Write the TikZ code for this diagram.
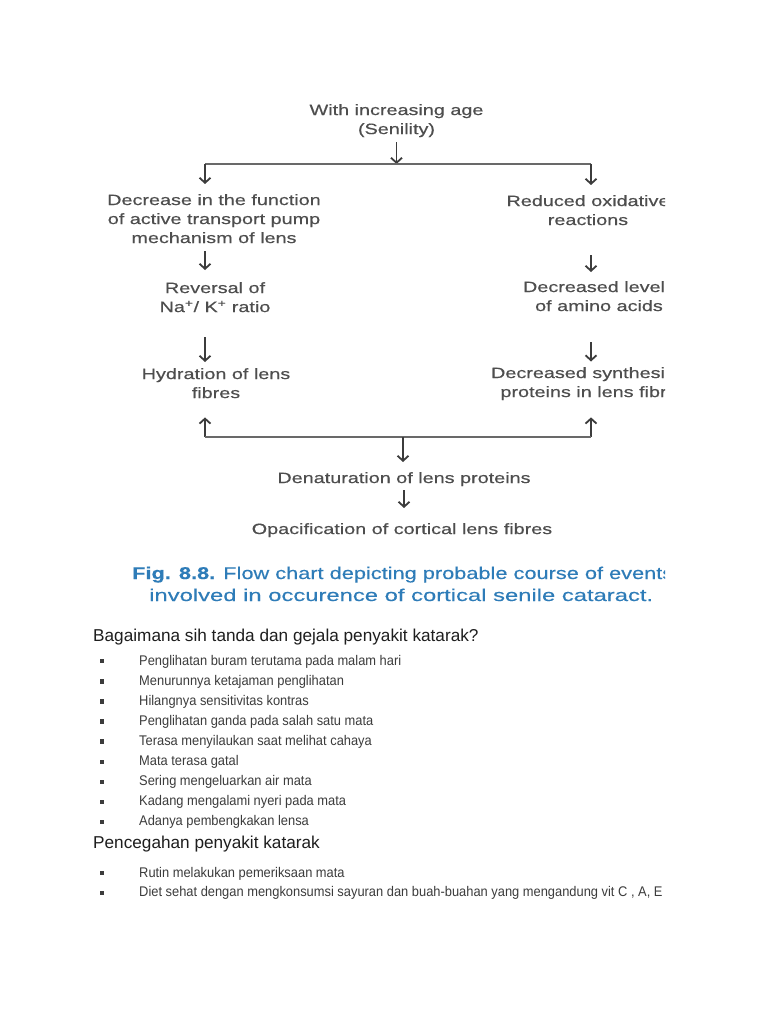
\documentclass[tikz,border=0pt]{standalone}
\usepackage{fontspec}
\setmainfont{Liberation Sans}
\newfontfamily\flowfont[FakeStretch=1.32,FakeBold=0.4]{Liberation Sans}
\newfontfamily\capfont[FakeStretch=1.28,FakeBold=0.3]{Liberation Sans}
\newfontfamily\capfontb[FakeStretch=1.40,FakeBold=0.3]{Liberation Sans}
\newfontfamily\listfont[FakeStretch=0.92]{Liberation Sans}
\usepackage{tikz}
\usetikzlibrary{arrows.meta,calc}

\definecolor{flowtext}{RGB}{78,78,78}
\definecolor{flowline}{RGB}{60,60,60}
\definecolor{barline}{RGB}{105,105,105}
\definecolor{capblue}{RGB}{46,124,184}
\definecolor{headtext}{RGB}{30,30,30}
\definecolor{listtext}{RGB}{60,60,60}

\tikzset{
  flowbox/.style={inner sep=0pt, align=center, anchor=north, text=flowtext,
    font=\flowfont\fontsize{15}{19}\selectfont},
  flow/.style={draw=flowline, line width=1.8pt,
    -{Straight Barb[length=5pt,width=11pt,line width=1.8pt]}},
  bar/.style={draw=barline, line width=2pt},
  captext/.style={inner sep=0pt, anchor=base west, text=capblue,
    font=\capfont\fontsize{17}{20}\selectfont},
  heading/.style={inner sep=0pt, anchor=base west, text=headtext,
    font=\fontsize{17.2}{20}\selectfont},
  item/.style={inner sep=0pt, anchor=base west, text=listtext,
    font=\listfont\fontsize{14}{16}\selectfont},
  sqbullet/.style={fill=listtext, minimum width=4pt, minimum height=4.4pt, inner sep=0pt}
}

\begin{document}
\begin{tikzpicture}[x=1pt,y=-1pt]
\useasboundingbox (0,0) rectangle (768,1024);
\fill[white] (0,0) rectangle (768,1024);

\pgfmathsetmacro{\dy}{20.1} % row step of the lists

\begin{scope}
% the scanned figure is cut off on the right
\clip (0,0) rectangle (665,620);

% flow chart boxes
\node[flowbox] (age) at (396.5,104) {With increasing age\\(Senility)};
\node[flowbox] (pump) at (214,194) {Decrease in the function\\of active transport pump\\mechanism of lens};
\node[flowbox] (oxid) at (588,195) {Reduced oxidative\\reactions};
\node[flowbox] (nak) at (215,282) {Reversal of\\Na\textsuperscript{+}/ K\textsuperscript{+} ratio};
\node[flowbox] (amino) at (599,281) {Decreased levels\\of amino acids};
\node[flowbox] (hydr) at (216,368) {Hydration of lens\\fibres};
\node[flowbox] (synth) at (594,367) {Decreased synthesis of\\proteins in lens fibres};
\node[flowbox] (denat) at (404,472) {Denaturation of lens proteins};
\node[flowbox] (opac) at (402,523) {Opacification of cortical lens fibres};

% split and join bars
\coordinate (tl) at (205,164);
\coordinate (tr) at (591,164);
\coordinate (bl) at (205,437);
\coordinate (br) at (591,437);
\coordinate (join) at (403,437);

\draw[flow, shorten <=5pt] (age.south) -- (age.south |- tl);
\draw[bar] (tl) -- (tr);
\draw[flow, shorten >=10pt] (tl) -- (tl |- pump.north);
\draw[flow, shorten >=10pt] (tr) -- (tr |- oxid.north);

% left column
\draw[flow, shorten <=8pt, shorten >=12pt] (pump.south -| tl) -- (nak.north -| tl);
\draw[flow, shorten <=25pt, shorten >=6pt] (nak.south -| tl) -- (hydr.north -| tl);
% right column
\draw[flow, shorten <=30pt, shorten >=9pt] (oxid.south -| tr) -- (amino.north -| tr);
\draw[flow, shorten <=31pt, shorten >=5.5pt] (amino.south -| tr) -- (synth.north -| tr);

% both columns meet
\draw[flow, shorten >=19pt] (bl) -- (hydr.south -| bl);
\draw[flow, shorten >=17pt] (br) -- (synth.south -| br);
\draw[bar] (bl) -- (br);
\draw[flow, shorten >=10pt] (join) -- (join |- denat.north);
\draw[flow, shorten <=4pt, shorten >=15pt] (denat.south) -- (denat.south |- opac.north);

% caption
\node[captext] (cap1) at (132,579) {\textbf{Fig. 8.8.} Flow chart depicting probable course of events};
\node[captext, font=\capfontb\fontsize{17}{20}\selectfont] (cap2) at (149,601) {involved in occurence of cortical senile cataract.};
\end{scope}

% signs and symptoms
\node[heading] (q) at (93,641) {Bagaimana sih tanda dan gejala penyakit katarak?};
\foreach \txt [count=\i] in {
  Penglihatan buram terutama pada malam hari,
  Menurunnya ketajaman penglihatan,
  Hilangnya sensitivitas kontras,
  Penglihatan ganda pada salah satu mata,
  Terasa menyilaukan saat melihat cahaya,
  Mata terasa gatal,
  Sering mengeluarkan air mata,
  Kadang mengalami nyeri pada mata,
  Adanya pembengkakan lensa}
{
\node[sqbullet] (s\i) at (102,{665+(\i-1)*\dy-3.8}) {};
\node[item] (t\i) at (139,{665+(\i-1)*\dy}) {\txt};
}

% prevention
\node[heading] (p) at (93,848) {Pencegahan penyakit katarak};
\foreach \txt [count=\i] in {
  Rutin melakukan pemeriksaan mata,
  {Diet sehat dengan mengkonsumsi sayuran dan buah-buahan yang mengandung vit C , A, E}}
{
\node[sqbullet] (ps\i) at (102,{877+(\i-1)*19.5-3.8}) {};
\node[item] (pt\i) at (139,{877+(\i-1)*19.5}) {\txt};
}

\end{tikzpicture}
\end{document}
